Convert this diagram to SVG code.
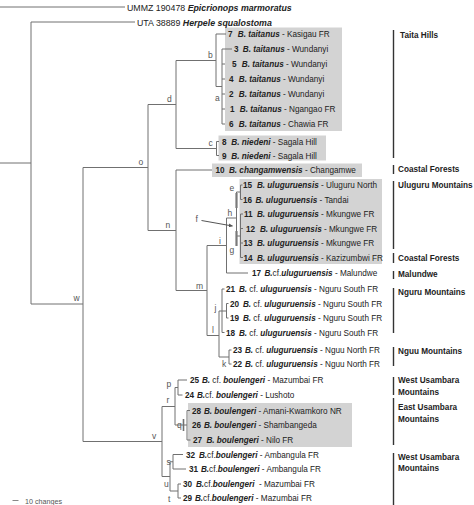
<svg xmlns="http://www.w3.org/2000/svg" width="474" height="505" viewBox="0 0 474 505">
<defs>
<style>
.ln{stroke:#707070;stroke-width:1;fill:none}
.tk{stroke:#7a7a7a;stroke-width:2.2;fill:none}
.bx{fill:#d3d3d3}
.t{font-family:"Liberation Sans",Arial,sans-serif;font-size:8.2px;fill:#222}
.og{font-size:8.8px}
.n{font-weight:bold}
.sp{font-weight:bold;font-style:italic}
.nl{font-family:"Liberation Sans",Arial,sans-serif;font-size:8.5px;fill:#555}
.rg{font-family:"Liberation Sans",Arial,sans-serif;font-size:8.2px;font-weight:bold;fill:#222}
.rb{stroke:#333;stroke-width:1.4;fill:none}
</style>
<marker id="ah" viewBox="0 0 6 6" refX="5.5" refY="3" markerWidth="4" markerHeight="4" orient="auto"><path d="M0,0 L6,3 L0,6 z" fill="#555"/></marker>
</defs>
<rect width="474" height="505" fill="#fff"/>
<g id="highlights">
<rect class="bx" x="225" y="27.5" width="117" height="103.5"/>
<rect class="bx" x="218.5" y="135.5" width="107.5" height="25"/>
<rect class="bx" x="212" y="163.5" width="150" height="13.5"/>
<rect class="bx" x="239.5" y="179" width="142.5" height="85"/>
<rect class="bx" x="188" y="403" width="164" height="44"/>
</g>
<g id="connectors">
<path class="ln" d="M0 7H125M0 163H31M31 22V304M31 22H135M31 304H83M83 167.5V441.5M83 167.5H148M148 104.5V230.5M148 104.5H176M176 60.5V148.5M176 60.5H216M216 34V86.5M216 34H226M216 86.5H222M222 49V124M222 49H232M222 64H225M222 79H225M222 94H225M222 109H225M222 124H225"/>
<path class="ln" d="M176 148.5H216.5M216.5 141.5V155.5M216.5 141.5H219M216.5 155.5H219M148 230.5H176M176 170V290.5M176 170H212M176 290.5H207M207 245.5V335.5M207 245.5H226.5M226.5 218V273M226.5 273H248M226.5 218H236.5M236.5 192V244M236.5 192H240.5M240.5 185V199.5M240.5 185H242.5M240.5 199.5H242.5M236.5 236H240.5M240.5 214V257.5M240.5 214H243M240.5 228.5H243M240.5 243H243M240.5 257.5H243"/>
<path class="tk" d="M236.5 193V208M236.5 231V246"/>
<path class="ln" d="M207 335.5H219M219 311V357M219 311H222M222 289V332.5M222 289H224.5M222 332.5H224.5M222 311H226.5M226.5 303.5V318M226.5 303.5H228.5M226.5 318H228.5M219 357H229M229 350V364M229 350H231.5M229 364H231.5"/>
<path class="ln" d="M83 441.5H162M162 406.5V476.5M162 406.5H175M175 387.5V425M175 387.5H178M178 380V395M178 380H187M178 395H182.5M175 425H187M187 410.5V440M187 410.5H190M187 440H190.5M162 476.5H170M170 461.75V491M170 461.75H173M173 454.5V469M173 454.5H183M173 469H186M170 491H178M178 484V498M178 484H181M178 498H181"/>
<path class="ln" d="M183.5 419V431" style="stroke-width:1.6"/>
<path class="ln" d="M201.5 220.5L232.5 226" marker-end="url(#ah)" style="stroke:#555"/>
<path class="ln" d="M12.5 500.5H18.5" style="stroke:#888"/>
</g>
<g id="node-labels" class="nl">
<text x="73.5" y="301">w</text>
<text x="138.5" y="164.5">o</text>
<text x="165.5" y="228">n</text>
<text x="167" y="102">d</text>
<text x="208" y="58">b</text>
<text x="215" y="101">a</text>
<text x="208.5" y="146">c</text>
<text x="229.5" y="190.5">e</text>
<text x="227.5" y="216">h</text>
<text x="195.5" y="222">f</text>
<text x="229.5" y="253">g</text>
<text x="219" y="244">i</text>
<text x="196" y="288.5">m</text>
<text x="214.5" y="311">j</text>
<text x="212" y="333">l</text>
<text x="222" y="367">k</text>
<text x="166.5" y="387">p</text>
<text x="166.5" y="403">r</text>
<text x="177" y="428">q</text>
<text x="152" y="439">v</text>
<text x="166.5" y="465">s</text>
<text x="164" y="487">u</text>
<text x="168" y="502">t</text>
</g>
<g id="outgroup-ummz"><text class="t og" x="127" y="10.5">UMMZ 190478 <tspan class="sp">Epicrionops marmoratus</tspan></text></g>
<g id="outgroup-uta"><text class="t og" x="137" y="25.5">UTA 38889 <tspan class="sp">Herpele squalostoma</tspan></text></g>
<g id="t7"><text class="t" x="228" y="37"><tspan class="n">7</tspan> <tspan class="sp" dx="3">B. taitanus</tspan> - Kasigau FR</text></g>
<g id="t3"><text class="t" x="234" y="52"><tspan class="n">3</tspan> <tspan class="sp" dx="2">B. taitanus</tspan> - Wundanyi</text></g>
<g id="t5"><text class="t" x="232" y="67"><tspan class="n">5</tspan> <tspan class="sp" dx="3">B. taitanus</tspan> - Wundanyi</text></g>
<g id="t4"><text class="t" x="229" y="82"><tspan class="n">4</tspan> <tspan class="sp" dx="3">B. taitanus</tspan> - Wundanyi</text></g>
<g id="t2"><text class="t" x="229" y="97"><tspan class="n">2</tspan> <tspan class="sp" dx="3">B. taitanus</tspan> - Wundanyi</text></g>
<g id="t1"><text class="t" x="230" y="112"><tspan class="n">1</tspan> <tspan class="sp" dx="3">B. taitanus</tspan> - Ngangao FR</text></g>
<g id="t6"><text class="t" x="229" y="127"><tspan class="n">6</tspan> <tspan class="sp" dx="3">B. taitanus</tspan> - Chawia FR</text></g>
<g id="t8"><text class="t" x="222" y="144.5"><tspan class="n">8</tspan> <tspan class="sp" dx="2.5">B. niedeni</tspan> - Sagala Hill</text></g>
<g id="t9"><text class="t" x="222" y="158.5"><tspan class="n">9</tspan> <tspan class="sp" dx="2.5">B. niedeni</tspan> - Sagala Hill</text></g>
<g id="t10"><text class="t" x="215.5" y="173"><tspan class="n">10</tspan> <tspan class="sp" dx="2">B. changamwensis</tspan> - Changamwe</text></g>
<g id="t15"><text class="t" x="243" y="188"><tspan class="n">15</tspan> <tspan class="sp" dx="2.5">B. uluguruensis</tspan> - Uluguru North</text></g>
<g id="t16"><text class="t" x="243" y="202.5"><tspan class="n">16</tspan> <tspan class="sp" dx="1">B. uluguruensis</tspan> - Tandai</text></g>
<g id="t11"><text class="t" x="244" y="217"><tspan class="n">11</tspan> <tspan class="sp" dx="2">B. uluguruensis</tspan> - Mkungwe FR</text></g>
<g id="t12"><text class="t" x="246" y="231.5"><tspan class="n">12</tspan> <tspan class="sp" dx="2.5">B. uluguruensis</tspan> - Mkungwe FR</text></g>
<g id="t13"><text class="t" x="243.5" y="246"><tspan class="n">13</tspan> <tspan class="sp" dx="2">B. uluguruensis</tspan> - Mkungwe FR</text></g>
<g id="t14"><text class="t" x="243.5" y="260.5"><tspan class="n">14</tspan> <tspan class="sp" dx="2">B. uluguruensis</tspan> - Kazizumbwi FR</text></g>
<g id="t17"><text class="t" x="252" y="276"><tspan class="n">17</tspan> <tspan class="sp" dx="1">B.</tspan>cf.<tspan class="sp">uluguruensis</tspan> - Malundwe</text></g>
<g id="t21"><text class="t" x="226" y="292"><tspan class="n">21</tspan> <tspan class="sp" dx="1.5">B.</tspan> cf. <tspan class="sp">uluguruensis</tspan> - Nguru South FR</text></g>
<g id="t20"><text class="t" x="230" y="306.5"><tspan class="n">20</tspan> <tspan class="sp" dx="1.5">B.</tspan> cf. <tspan class="sp">uluguruensis</tspan> - Nguru South FR</text></g>
<g id="t19"><text class="t" x="230" y="321"><tspan class="n">19</tspan> <tspan class="sp" dx="1.5">B.</tspan> cf. <tspan class="sp">uluguruensis</tspan> - Nguru South FR</text></g>
<g id="t18"><text class="t" x="226" y="335.5"><tspan class="n">18</tspan> <tspan class="sp" dx="1.5">B.</tspan> cf. <tspan class="sp">uluguruensis</tspan> - Nguru South FR</text></g>
<g id="t23"><text class="t" x="233" y="353"><tspan class="n">23</tspan> <tspan class="sp" dx="0.5">B.</tspan> cf. <tspan class="sp">uluguruensis</tspan> - Nguu North FR</text></g>
<g id="t22"><text class="t" x="233" y="367"><tspan class="n">22</tspan> <tspan class="sp" dx="0.5">B.</tspan> cf. <tspan class="sp">uluguruensis</tspan> - Nguu North FR</text></g>
<g id="t25"><text class="t" x="190" y="383"><tspan class="n">25</tspan> <tspan class="sp" dx="0.5">B.</tspan> cf. <tspan class="sp">boulengeri</tspan> - Mazumbai FR</text></g>
<g id="t24"><text class="t" x="185" y="398"><tspan class="n">24</tspan> <tspan class="sp" dx="0.5">B.</tspan>cf. <tspan class="sp">boulengeri</tspan> - Lushoto</text></g>
<g id="t28"><text class="t" x="192" y="413.5"><tspan class="n">28</tspan> <tspan class="sp" dx="0.5">B. boulengeri</tspan> - Amani-Kwamkoro NR</text></g>
<g id="t26"><text class="t" x="192" y="428"><tspan class="n">26</tspan> <tspan class="sp" dx="0.5">B. boulengeri</tspan> - Shambangeda</text></g>
<g id="t27"><text class="t" x="193" y="443"><tspan class="n">27</tspan> <tspan class="sp" dx="2">B. boulengeri</tspan> - Nilo FR</text></g>
<g id="t32"><text class="t" x="186" y="457.5"><tspan class="n">32</tspan> <tspan class="sp" dx="1.5">B.</tspan>cf.<tspan class="sp">boulengeri</tspan> - Ambangula FR</text></g>
<g id="t31"><text class="t" x="189" y="472"><tspan class="n">31</tspan> <tspan class="sp" dx="0.5">B.</tspan>cf.<tspan class="sp">boulengeri</tspan> - Ambangula FR</text></g>
<g id="t30"><text class="t" x="183" y="487"><tspan class="n">30</tspan> <tspan class="sp" dx="1.5">B.</tspan>cf.<tspan class="sp">boulengeri</tspan> <tspan dx="2">- Mazumbai FR</tspan></text></g>
<g id="t29"><text class="t" x="183" y="501"><tspan class="n">29</tspan> <tspan class="sp" dx="0.5">B.</tspan>cf.<tspan class="sp">boulengeri</tspan> - Mazumbai FR</text></g>
<g id="region-taita"><path class="rb" d="M393.5 30V158"/><text class="rg" x="400" y="38">Taita Hills</text></g>
<g id="region-coastal-1"><path class="rb" d="M393.5 165V174"/><text class="rg" x="398" y="172">Coastal Forests</text></g>
<g id="region-uluguru"><path class="rb" d="M393.5 181V249"/><text class="rg" x="398" y="188">Uluguru Mountains</text></g>
<g id="region-coastal-2"><path class="rb" d="M393.5 253V263"/><text class="rg" x="398" y="261">Coastal Forests</text></g>
<g id="region-malundwe"><path class="rb" d="M393.5 271V279"/><text class="rg" x="398" y="277">Malundwe</text></g>
<g id="region-nguru"><path class="rb" d="M393.5 288V333"/><text class="rg" x="398" y="295">Nguru Mountains</text></g>
<g id="region-nguu"><path class="rb" d="M393.5 347V366"/><text class="rg" x="398" y="354">Nguu Mountains</text></g>
<g id="region-west-usambara-1"><path class="rb" d="M393.5 377V395"/><text class="rg" x="398" y="383">West Usambara</text><text class="rg" x="398" y="394.5">Mountains</text></g>
<g id="region-east-usambara"><path class="rb" d="M393.5 398V445"/><text class="rg" x="398" y="410">East Usambara</text><text class="rg" x="398" y="421.5">Mountains</text></g>
<g id="region-west-usambara-2"><path class="rb" d="M393.5 453V505"/><text class="rg" x="398" y="459.5">West Usambara</text><text class="rg" x="398" y="471">Mountains</text></g>
<g id="scale"><text x="25" y="503.5" style="font-family:'Liberation Sans',Arial,sans-serif;font-size:7.2px;fill:#555">10 changes</text></g>
</svg>
